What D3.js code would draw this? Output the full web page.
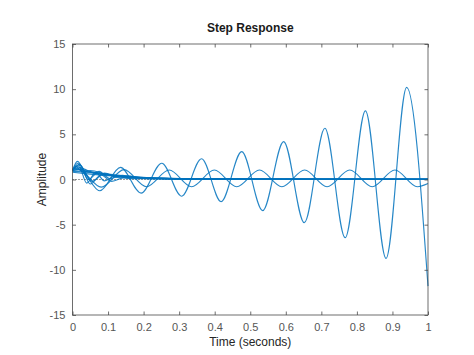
<!DOCTYPE html>
<html><head><meta charset="utf-8">
<script src="https://cdn.jsdelivr.net/npm/d3@7"></script>
<style>
body{margin:0;background:#fff;}
svg{display:block;font-family:"Liberation Sans",Arial,sans-serif;}
</style></head>
<body><svg id="c" width="474" height="355"></svg>
<script>
// ---- data ----
const xTicks = [0,0.1,0.2,0.3,0.4,0.5,0.6,0.7,0.8,0.9,1];
const yTicks = [-15,-10,-5,0,5,10,15];
const xDomain = [0,1];
const yDomain = [-15,15];

// unstable, growing oscillation
const unstableT = [0,0.019,0.077,0.135,0.193,0.251,0.307,0.363,0.418,0.476,0.535,0.594,0.652,0.71,0.767,0.824,0.882,0.94,1.0];
const unstableA = [1.0,1.15,-1.25,1.35,-1.5,1.8,-1.85,2.3,-2.45,3.08,-3.45,4.2,-4.78,5.67,-6.44,7.6,-8.73,10.2,-11.8];

// sustained oscillation
const sustainedT = [0,0.018,0.081,0.145,0.208,0.272,0.335,0.399,0.462,0.526,0.589,0.653,0.716,0.78,0.843,0.907,0.97,1.0];
const sustainedA = [1.0,1.05,-0.85,1.1,-0.8,1.05,-0.8,1.05,-0.8,1.05,-0.8,1.05,-0.8,1.05,-0.8,1.05,-0.8,-0.45];

// decaying responses
const decay1T = [0,0.014,0.045,0.075,0.105,0.14,0.2,0.3,0.45,1.0];
const decay1A = [1.0,2.0,0.0,0.9,0.1,0.45,0.12,0.06,0.03,0.03];
const decay2T = [0,0.02,0.055,0.09,0.13,0.2,0.3,0.5,1.0];
const decay2A = [1.0,1.6,-0.2,0.7,0.2,0.15,0.06,0.03,0.03];
const decay3T = [0,0.01,0.03,0.05,0.1,0.2,0.3,0.5,1.0];
const decay3A = [1.0,1.4,0.8,1.0,0.5,0.2,0.08,0.03,0.02];
const decay4T = [0,0.03,0.1,0.2,0.35,0.6,1.0];
const decay4A = [0.9,0.85,0.5,0.22,0.08,0.03,0.03];
const decay5T = [0,0.05,0.15,0.25,0.4,0.7,1.0];
const decay5A = [0.8,0.6,0.3,0.12,0.05,0.02,0.02];
const decay6T = [0,0.015,0.04,0.065,0.09,0.12,0.16,0.25,0.4,1.0];
const decay6A = [1.0,1.8,-0.4,0.8,-0.15,0.4,0.1,0.08,0.04,0.03];
const decay7T = [0,0.02,0.06,0.1,0.15,0.25,0.4,1.0];
const decay7A = [1.1,1.3,0.7,0.55,0.3,0.12,0.05,0.03];
const decay8T = [0,0.012,0.035,0.07,0.12,0.2,0.35,1.0];
const decay8A = [1.0,1.5,0.9,0.75,0.4,0.18,0.06,0.03];
const decay9T = [0,0.025,0.06,0.1,0.18,0.3,0.5,1.0];
const decay9A = [1.2,1.1,0.8,0.6,0.3,0.1,0.04,0.03];
const decay10T = [0,0.02,0.05,0.08,0.11,0.15,0.22,0.35,1.0];
const decay10A = [1.0,1.7,-0.5,0.5,-0.2,0.25,0.08,0.05,0.03];

const curves = [
  {t:decay1T,a:decay1A},{t:decay2T,a:decay2A},{t:decay3T,a:decay3A},
  {t:decay4T,a:decay4A},{t:decay5T,a:decay5A},{t:decay6T,a:decay6A},
  {t:decay7T,a:decay7A},{t:decay8T,a:decay8A},{t:decay9T,a:decay9A},
  {t:decay10T,a:decay10A},
  {t:sustainedT,a:sustainedA},{t:unstableT,a:unstableA}
];

// ---- layout ----
const L=72.5, R=428, T=44, B=315;
const svg = d3.select("#c");
const x = d3.scaleLinear().domain(xDomain).range([L,R]);
const y = d3.scaleLinear().domain(yDomain).range([B,T]);
const axisCol = "#4a4a4a", textCol = "#555";

// zero reference line (dotted)
svg.append("line").attr("x1",x(0)).attr("x2",x(1)).attr("y1",y(0)).attr("y2",y(0))
  .attr("stroke","#000").attr("stroke-width",0.8).attr("stroke-dasharray","1,2");

// curves
const line = d3.line().x(d=>x(d[0])).y(d=>y(d[1])).curve(d3.curveMonotoneX);
const g = svg.append("g");
curves.forEach(c=>{
  const pts = c.t.map((t,i)=>[t,c.a[i]]);
  g.append("path").attr("d",line(pts)).attr("fill","none")
    .attr("stroke","#0072BD").attr("stroke-width",1.15).attr("stroke-opacity",0.85);
});

// axes (box with inward ticks)
const tk=3.5;
const ax = svg.append("g");
ax.append("rect").attr("x",L).attr("y",T).attr("width",R-L).attr("height",B-T)
  .attr("fill","none").attr("stroke",axisCol).attr("stroke-width",0.8);
const xAxisB = d3.axisBottom(x).tickValues(xTicks).tickSize(-tk).tickPadding(8).tickFormat(d3.format("~g"));
const xAxisT = d3.axisTop(x).tickValues(xTicks).tickSize(-tk).tickFormat("");
const yAxisL = d3.axisLeft(y).tickValues(yTicks).tickSize(-tk).tickPadding(7).tickFormat(d3.format("~g"));
const yAxisR = d3.axisRight(y).tickValues(yTicks).tickSize(-tk).tickFormat("");
function style(s){
  s.select(".domain").remove();
  s.selectAll(".tick line").attr("stroke",axisCol).attr("stroke-width",0.8);
  s.selectAll(".tick text").attr("fill",textCol).style("font-size","11px")
   .style("font-family","'Liberation Sans',Arial,sans-serif");
}
ax.append("g").attr("transform",`translate(0,${B})`).call(xAxisB).call(style);
ax.append("g").attr("transform",`translate(0,${T})`).call(xAxisT).call(style);
ax.append("g").attr("transform",`translate(${L},0)`).call(yAxisL).call(style);
ax.append("g").attr("transform",`translate(${R},0)`).call(yAxisR).call(style);
ax.selectAll("g").selectAll(".tick text").text(function(){return d3.select(this).text().replace("−","-");});

// labels
svg.append("text").attr("x",(L+R)/2).attr("y",32).attr("text-anchor","middle")
  .attr("fill","#1a1a1a").style("font-weight","bold").style("font-size","12px").text("Step Response");
svg.append("text").attr("x",(L+R)/2).attr("y",346).attr("text-anchor","middle")
  .attr("fill","#262626").style("font-size","12px").text("Time (seconds)");
svg.append("text").attr("transform",`translate(46,${(T+B)/2}) rotate(-90)`).attr("text-anchor","middle")
  .attr("fill","#262626").style("font-size","12px").text("Amplitude");
</script></body></html>
